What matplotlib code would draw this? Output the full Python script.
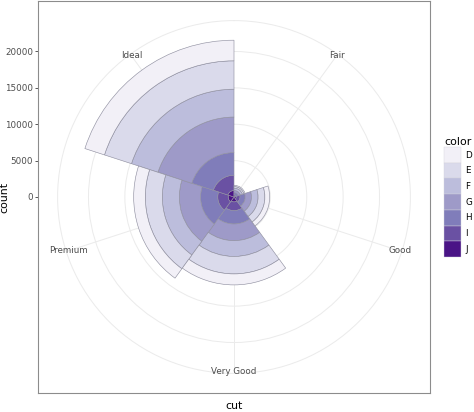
import numpy as np
import matplotlib.pyplot as plt
from matplotlib.patches import Patch

# diamonds: counts by cut and color
cuts = ["Fair", "Good", "Very Good", "Premium", "Ideal"]
colors = ["D", "E", "F", "G", "H", "I", "J"]
counts_D = [163, 662, 1513, 1603, 2834]
counts_E = [224, 933, 2400, 2337, 3903]
counts_F = [312, 909, 2164, 2331, 3826]
counts_G = [314, 871, 2299, 2924, 4884]
counts_H = [303, 702, 1824, 2360, 3115]
counts_I = [175, 522, 1204, 1428, 2093]
counts_J = [119, 307, 678, 808, 896]
count_ticks = [0, 5000, 10000, 15000, 20000]

fills = ["#F2F0F7", "#DADAEB", "#BCBDDC", "#9E9AC8", "#807DBA", "#6A51A3", "#4A1486"]
grid_col = "#EBEBEB"
text_col = "#4D4D4D"

by_color = [counts_D, counts_E, counts_F, counts_G, counts_H, counts_I, counts_J]
totals = np.sum(by_color, axis=0)
rmax = totals.max()          # maps to 0.4 of the panel
r45 = rmax * 0.45 / 0.4      # outer grid circle

W, H, DPI = 474, 412, 72
fig = plt.figure(figsize=(W / DPI, H / DPI), dpi=DPI)

# panel (square) in pixels
px0, py0, pw = 38, 19, 392
panel = [px0 / W, py0 / H, pw / W, pw / H]

# cartesian panel carrying border and the radial count axis
bg = fig.add_axes(panel)
R = rmax / 0.8
bg.set_xlim(-R, R)
bg.set_ylim(-R, R)
bg.set_xticks([])
bg.set_yticks(count_ticks)
bg.set_yticklabels([str(t) for t in count_ticks], fontsize=8.8, color=text_col)
bg.tick_params(axis="y", length=3, width=0.8, color="#333333", pad=2)
for s in bg.spines.values():
    s.set_color("#8c8c8c")
    s.set_linewidth(1.1)
bg.set_ylabel("count", fontsize=11)
bg.yaxis.set_label_coords((9 - px0) / pw, 0.5)
bg.set_xlabel("cut", fontsize=11, labelpad=8)
bg.set_facecolor("white")

# polar axes occupying 0.9 of the panel -> its edge is the 0.45 circle
cx, cy = px0 + pw / 2, py0 + pw / 2
ps = 0.9 * pw
ax = fig.add_axes([(cx - ps / 2) / W, (cy - ps / 2) / H, ps / W, ps / H],
                  projection="polar")
ax.set_facecolor("none")
ax.set_theta_zero_location("N")
ax.set_theta_direction(-1)
ax.set_ylim(0, r45)

n = len(cuts)
width = 2 * np.pi / n
theta = np.arange(n) * width + width / 2

# stack J at the centre up to D on the outside
bottom = np.zeros(n)
for i in range(len(colors) - 1, -1, -1):
    ax.bar(theta, by_color[i], width=width, bottom=bottom, color=fills[i],
           edgecolor="#8f8fa0", linewidth=0.6, align="center", zorder=3)
    bottom = bottom + np.array(by_color[i])

ax.set_xticks(theta)
ax.set_xticklabels([])
ax.set_yticks(count_ticks[1:])
ax.set_yticklabels([])
ax.grid(True, color=grid_col, linewidth=1.0)
ax.spines["polar"].set_color(grid_col)
ax.spines["polar"].set_linewidth(1.0)
ax.tick_params(length=0)

for t, lab in zip(theta, cuts):
    ax.text(t, r45 - rmax * 0.012, lab, ha="center", va="center",
            fontsize=8.8, color=text_col, zorder=5)

# legend
handles = [Patch(facecolor=c, edgecolor="#d4d4dc", linewidth=0.4) for c in fills]
leg = fig.legend(handles, colors, title="color", loc="upper left",
                 bbox_to_anchor=(444 / W, 1 - 137 / H), frameon=False,
                 fontsize=8.8, title_fontsize=11, handlelength=1.95,
                 handleheight=2.37, labelspacing=0, handletextpad=0.45,
                 borderpad=0, borderaxespad=0)
leg._legend_box.align = "left"

fig.savefig("out.png", dpi=DPI)
